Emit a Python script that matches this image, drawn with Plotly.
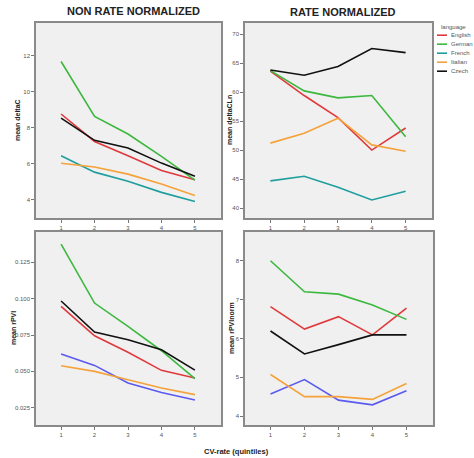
import plotly.graph_objects as go

quintiles = [1, 2, 3, 4, 5]
languages = ["English", "German", "French", "Italian", "Czech"]

# NON RATE NORMALIZED - mean deltaC
deltaC = {
    "English": [8.76, 7.24, 6.45, 5.63, 5.12],
    "German":  [11.67, 8.63, 7.65, 6.41, 5.10],
    "French":  [6.45, 5.54, 5.03, 4.42, 3.91],
    "Italian": [6.03, 5.82, 5.43, 4.88, 4.24],
    "Czech":   [8.53, 7.30, 6.88, 6.04, 5.31],
}
# RATE NORMALIZED - mean deltaCLn
deltaCLn = {
    "English": [63.6, 59.4, 55.6, 50.0, 53.8],
    "German":  [63.7, 60.2, 59.0, 59.4, 52.3],
    "French":  [44.7, 45.5, 43.6, 41.4, 42.9],
    "Italian": [51.2, 52.9, 55.5, 50.9, 49.8],
    "Czech":   [63.8, 62.9, 64.4, 67.5, 66.8],
}
# NON RATE NORMALIZED - mean rPVI
rPVI = {
    "English": [0.0947, 0.0745, 0.0631, 0.0507, 0.0454],
    "German":  [0.1376, 0.0970, 0.0810, 0.0642, 0.0450],
    "French":  [0.0619, 0.0541, 0.0420, 0.0355, 0.0303],
    "Italian": [0.0539, 0.0500, 0.0443, 0.0385, 0.0340],
    "Czech":   [0.0984, 0.0770, 0.0718, 0.0649, 0.0509],
}
# RATE NORMALIZED - mean rPVInorm
rPVInorm = {
    "English": [6.82, 6.24, 6.56, 6.09, 6.78],
    "German":  [8.00, 7.20, 7.14, 6.86, 6.49],
    "French":  [4.57, 4.94, 4.41, 4.29, 4.65],
    "Italian": [5.07, 4.50, 4.50, 4.43, 4.84],
    "Czech":   [6.19, 5.60, 5.84, 6.09, 6.09],
}

colors_top = {"English": "#e0393c", "German": "#3cb83f", "French": "#1f9e9e",
              "Italian": "#f5a23a", "Czech": "#111111"}
colors_bottom = dict(colors_top, French="#5a5af0")

W, H = 474, 458
def px_x(a, b):
    return [a / W, b / W]
def px_y(top, bottom):
    return [1 - bottom / H, 1 - top / H]

fig = go.Figure()

panels = [
    ("x", "y", deltaC, colors_top),
    ("x2", "y2", deltaCLn, colors_top),
    ("x3", "y3", rPVI, colors_bottom),
    ("x4", "y4", rPVInorm, colors_bottom),
]
for xa, ya, data, cols in panels:
    for lang in languages:
        fig.add_trace(go.Scatter(
            x=quintiles, y=data[lang], mode="lines", name=lang,
            line=dict(color=cols[lang], width=1.6),
            xaxis=xa, yaxis=ya, showlegend=False,
        ))

tickfont = dict(family="Liberation Sans, Arial", size=6, color="#555555")
common_x = dict(range=[0.25, 5.78], tickvals=quintiles, ticks="outside", ticklen=3,
                tickcolor="#777777", tickfont=tickfont, showgrid=False, zeroline=False,
                showline=True, linecolor="#8a8a8a", linewidth=1.5, mirror=True)
common_y = dict(ticks="outside", ticklen=3, tickcolor="#777777", tickfont=tickfont,
                showgrid=False, zeroline=False, showline=True, linecolor="#8a8a8a",
                linewidth=1.5, mirror=True)

fig.update_layout(
    width=W, height=H, margin=dict(l=0, r=0, t=0, b=0),
    paper_bgcolor="white", plot_bgcolor="#f0f0f0", showlegend=False,
    font=dict(family="Liberation Sans, Arial", color="#333333"),
    xaxis=dict(common_x, domain=px_x(36, 221), anchor="y"),
    yaxis=dict(common_y, domain=px_y(23, 218), anchor="x", range=[3.0, 13.8],
               tickvals=[4, 6, 8, 10, 12]),
    xaxis2=dict(common_x, domain=px_x(245, 432), anchor="y2"),
    yaxis2=dict(common_y, domain=px_y(23, 218), anchor="x2", range=[38.3, 71.9],
                tickvals=[40, 45, 50, 55, 60, 65, 70]),
    xaxis3=dict(common_x, domain=px_x(36, 221), anchor="y3"),
    yaxis3=dict(common_y, domain=px_y(232, 425), anchor="x3", range=[0.0131, 0.1459],
                tickvals=[0.025, 0.05, 0.075, 0.1, 0.125],
                ticktext=["0.025", "0.050", "0.075", "0.100", "0.125"]),
    xaxis4=dict(common_x, domain=px_x(245, 433), anchor="y4"),
    yaxis4=dict(common_y, domain=px_y(232, 425), anchor="x4", range=[3.77, 8.74],
                tickvals=[4, 5, 6, 7, 8]),
)

ann_font = dict(family="Liberation Sans, Arial", color="#222222")
annotations = [
    dict(text="<b>NON RATE NORMALIZED</b>", x=133 / W, y=1 - 11 / H, size=11),
    dict(text="<b>RATE NORMALIZED</b>", x=343 / W, y=1 - 12 / H, size=11),
    dict(text="<b>CV-rate (quintiles)</b>", x=236 / W, y=1 - 451 / H, size=7.5),
]
for a in annotations:
    fig.add_annotation(text=a["text"], x=a["x"], y=a["y"], xref="paper", yref="paper",
                       showarrow=False, xanchor="center", yanchor="middle",
                       font=dict(ann_font, size=a["size"]))

ytitles = [
    ("mean deltaC", 18, 120),
    ("mean deltaCLn", 230, 120),
    ("mean rPVI", 13, 328),
    ("mean rPVInorm", 231, 328),
]
for t, xx, yy in ytitles:
    fig.add_annotation(text="<b>" + t + "</b>", x=xx / W, y=1 - yy / H, xref="paper",
                       yref="paper", showarrow=False, textangle=-90,
                       xanchor="center", yanchor="middle",
                       font=dict(ann_font, size=7))

# Compact legend (language) drawn with shapes + text
leg_font = dict(family="Liberation Sans, Arial", size=6, color="#555555")
fig.add_annotation(text="language", x=453 / W, y=1 - 26.7 / H, xref="paper", yref="paper",
                   showarrow=False, xanchor="center", yanchor="middle", font=leg_font)
for i, lang in enumerate(languages):
    yy = 35.2 + i * 9.0
    fig.add_shape(type="line", xref="paper", yref="paper",
                  x0=437 / W, x1=447 / W, y0=1 - yy / H, y1=1 - yy / H,
                  line=dict(color=colors_top[lang], width=1.6))
    fig.add_annotation(text=lang, x=449 / W, y=1 - yy / H, xref="paper", yref="paper",
                       showarrow=False, xanchor="left", yanchor="middle", font=leg_font)

fig.write_html("out.html")
